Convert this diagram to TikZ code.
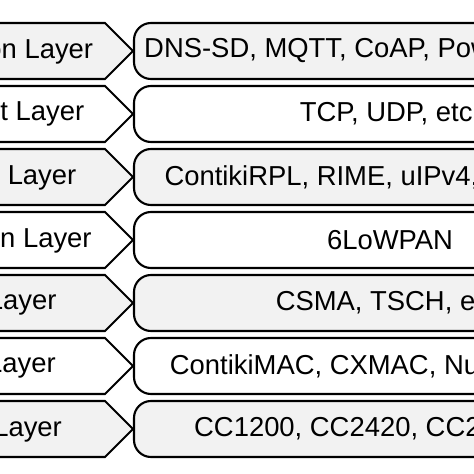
\documentclass[tikz,border=0pt]{standalone}
\usepackage{fontspec}
\setmainfont{Liberation Sans}
\usepackage{tikz}
\usetikzlibrary{positioning}
\usepackage{xcolor}

\tikzset{
  layer/.style={draw=black, line width=1.5pt, line join=miter},
  proto/.style={draw=black, line width=1.5pt, rounded corners=0.425cm},
  lbl/.style={font=\fontsize{19.5}{23}\selectfont, inner sep=0pt}
}

\begin{document}
\begin{tikzpicture}

\useasboundingbox (0,0) rectangle (11.85,11.85);
\clip (0,0) rectangle (11.85,11.85);

% application
\filldraw[layer, fill=black!5] (-3,11.275) -- (2.625,11.275) -- (3.325,10.575) -- (2.625,9.875) -- (-3,9.875) -- cycle;
\filldraw[proto, fill=black!5] (3.35,9.875) rectangle (16,11.275);
\node[lbl] (applayer) at (-0.3,10.575) {Application Layer};
\node[lbl] (appproto) at (9.75,10.575) {DNS-SD, MQTT, CoAP, Powertrace, etc.};

% transport
\filldraw[layer, fill=white] (-3,9.7) -- (2.625,9.7) -- (3.325,9) -- (2.625,8.3) -- (-3,8.3) -- cycle;
\filldraw[proto, fill=white] (3.35,8.3) rectangle (16,9.7);
\node[lbl] (translayer) at (-0.3,9) {Transport Layer};
\node[lbl] (transproto) at (9.75,9) {TCP, UDP, etc.};

% network
\filldraw[layer, fill=black!5] (-3,8.125) -- (2.625,8.125) -- (3.325,7.425) -- (2.625,6.725) -- (-3,6.725) -- cycle;
\filldraw[proto, fill=black!5] (3.35,6.725) rectangle (16,8.125);
\node[lbl] (netlayer) at (-0.3,7.425) {Network Layer};
\node[lbl] (netproto) at (9.75,7.425) {ContikiRPL, RIME, uIPv4, uIPv6, etc.};

% adaptation
\filldraw[layer, fill=white] (-3,6.55) -- (2.625,6.55) -- (3.325,5.85) -- (2.625,5.15) -- (-3,5.15) -- cycle;
\filldraw[proto, fill=white] (3.35,5.15) rectangle (16,6.55);
\node[lbl] (adaptlayer) at (-0.3,5.85) {Adaptation Layer};
\node[lbl] (adaptproto) at (9.75,5.85) {6LoWPAN};

% mac
\filldraw[layer, fill=black!5] (-3,4.975) -- (2.625,4.975) -- (3.325,4.275) -- (2.625,3.575) -- (-3,3.575) -- cycle;
\filldraw[proto, fill=black!5] (3.35,3.575) rectangle (16,4.975);
\node[lbl] (maclayer) at (-0.3,4.275) {MAC Layer};
\node[lbl] (macproto) at (9.75,4.275) {CSMA, TSCH, etc.};

% rdc
\filldraw[layer, fill=white] (-3,3.4) -- (2.625,3.4) -- (3.325,2.7) -- (2.625,2) -- (-3,2) -- cycle;
\filldraw[proto, fill=white] (3.35,2) rectangle (16,3.4);
\node[lbl] (rdclayer) at (-0.3,2.7) {RDC Layer};
\node[lbl] (rdcproto) at (9.75,2.7) {ContikiMAC, CXMAC, NullRDC, etc.};

% radio
\filldraw[layer, fill=black!5] (-3,1.825) -- (2.625,1.825) -- (3.325,1.125) -- (2.625,0.425) -- (-3,0.425) -- cycle;
\filldraw[proto, fill=black!5] (3.35,0.425) rectangle (16,1.825);
\node[lbl] (radiolayer) at (-0.3,1.125) {Radio Layer};
\node[lbl] (radioproto) at (9.75,1.125) {CC1200, CC2420, CC2538, etc.};

\end{tikzpicture}
\end{document}
